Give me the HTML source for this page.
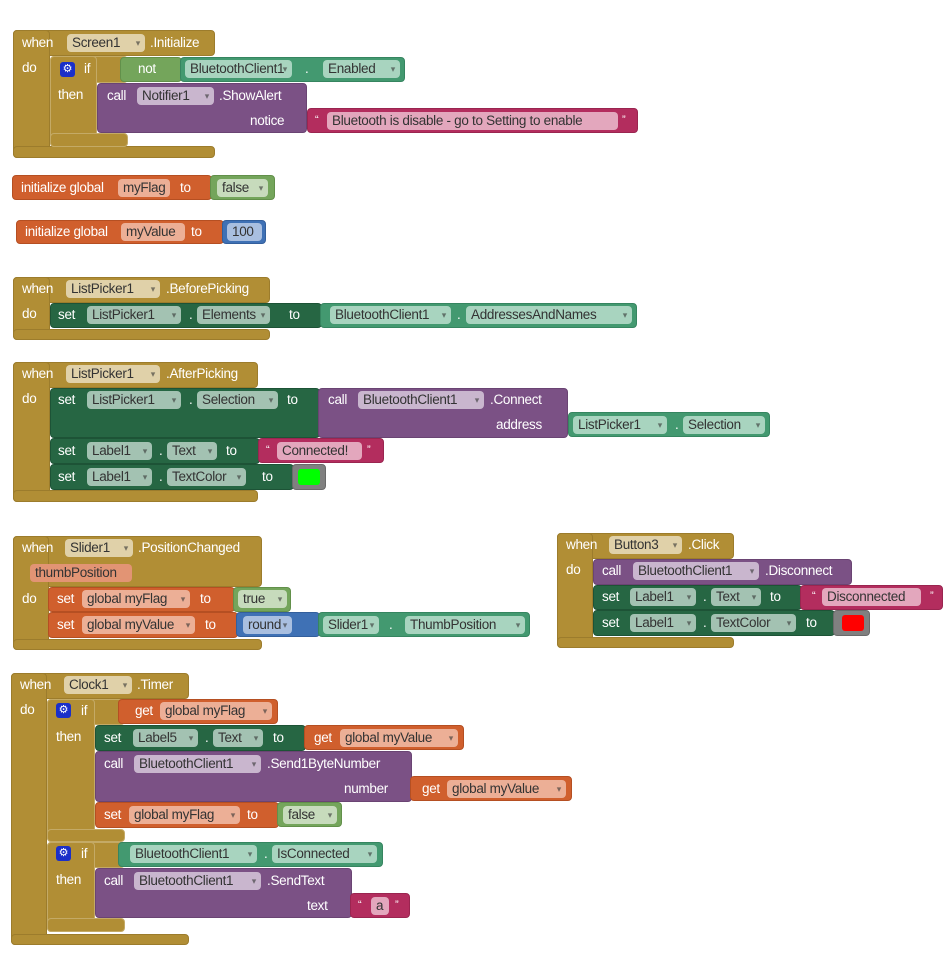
<!DOCTYPE html>
<html><head><meta charset="utf-8"><style>
body{margin:0;width:945px;height:957px;background:#fff;position:relative;overflow:hidden;font-family:"Liberation Sans",Arial,sans-serif}
.b{position:absolute;border-radius:4px;box-sizing:border-box}
.g{background:#B18E35;border:1px solid #9c7c2c}
.gi{background:#B18E35;border:1px solid #c4aa66}
.pu{background:#7B5185;border:1px solid #6a4473}
.dg{background:#266643;border:1px solid #1d5336}
.tl{background:#439970;border:1px solid #368560}
.or{background:#D05F2D;border:1px solid #b54f22}
.lm{background:#74A55B;border:1px solid #62904a}
.st{background:#B32D5E;border:1px solid #9a2550}
.bl{background:#3F71B5;border:1px solid #335f9c}
.gr{background:#808080;border:1px solid #6a6a6a}
.t{position:absolute;color:#fff;font-size:13.5px;letter-spacing:-0.3px;line-height:18px;white-space:nowrap}
.p{position:absolute;height:18px;border-radius:4px;color:#333;font-size:13.5px;letter-spacing:-0.3px;line-height:18px;padding-left:5px;box-sizing:border-box;white-space:nowrap;overflow:hidden}
.d::after{content:"▾";position:absolute;right:5px;top:0;font-size:9px;opacity:.6}
.pg{background:#E0D1A9}.ppu{background:#C9B6CE}.pdg{background:#A3C2B2}.ptl{background:#A8D4BF}.por{background:#ECAF96}.plm{background:#C7DBBC}.pst{background:#E3A7BD}.pbl{background:#A9BFE0}
.gear{position:absolute;width:15px;height:15px;background:#1a2fc9;border-radius:3px;color:#fff;font-size:11px;line-height:15px;text-align:center}
</style></head><body>

<!-- Screen1.Initialize -->
<div class="b g" style="left:13px;top:30px;width:202px;height:26px"></div>
<div class="b g" style="left:13px;top:30px;width:37px;height:128px"></div>
<div class="b g" style="left:13px;top:146px;width:202px;height:12px"></div>
<div class="b gi" style="left:50px;top:56px;width:78px;height:27px"></div>
<div class="b gi" style="left:50px;top:56px;width:47px;height:91px"></div>
<div class="b gi" style="left:50px;top:133px;width:78px;height:14px"></div>
<div class="b lm" style="left:120px;top:57px;width:62px;height:25px"></div>
<div class="b tl" style="left:180px;top:57px;width:225px;height:25px"></div>
<div class="b pu" style="left:97px;top:83px;width:210px;height:50px"></div>
<div class="b st" style="left:307px;top:108px;width:331px;height:25px"></div>
<div class="t" style="left:22px;top:34px">when</div>
<div class="p pg d" style="left:67px;top:34px;width:78px">Screen1</div>
<div class="t" style="left:150px;top:34px">.Initialize</div>
<div class="t" style="left:22px;top:59px">do</div>
<div class="gear" style="left:60px;top:62px">⚙</div>
<div class="t" style="left:84px;top:60px">if</div>
<div class="t" style="left:58px;top:86px">then</div>
<div class="t" style="left:138px;top:60px">not</div>
<div class="p ptl d" style="left:185px;top:60px;width:107px">BluetoothClient1</div>
<div class="t" style="left:305px;top:60px">.</div>
<div class="p ptl d" style="left:323px;top:60px;width:77px">Enabled</div>
<div class="t" style="left:107px;top:87px">call</div>
<div class="p ppu d" style="left:137px;top:87px;width:77px">Notifier1</div>
<div class="t" style="left:219px;top:87px">.ShowAlert</div>
<div class="t" style="left:250px;top:112px">notice</div>
<div class="t" style="left:315px;top:111px;font-size:11px">“</div>
<div class="p pst" style="left:327px;top:112px;width:291px">Bluetooth is disable - go to Setting to enable</div>
<div class="t" style="left:622px;top:111px;font-size:11px">”</div>

<!-- init globals -->
<div class="b or" style="left:12px;top:175px;width:200px;height:25px"></div>
<div class="b lm" style="left:210px;top:175px;width:65px;height:25px"></div>
<div class="t" style="left:21px;top:179px">initialize global</div>
<div class="p por" style="left:118px;top:179px;width:52px">myFlag</div>
<div class="t" style="left:180px;top:179px">to</div>
<div class="p plm d" style="left:217px;top:179px;width:51px">false</div>

<div class="b or" style="left:16px;top:220px;width:208px;height:24px"></div>
<div class="b bl" style="left:222px;top:220px;width:44px;height:24px"></div>
<div class="t" style="left:25px;top:223px">initialize global</div>
<div class="p por" style="left:121px;top:223px;width:64px">myValue</div>
<div class="t" style="left:191px;top:223px">to</div>
<div class="p pbl" style="left:227px;top:223px;width:35px">100</div>

<!-- BeforePicking -->
<div class="b g" style="left:13px;top:277px;width:257px;height:26px"></div>
<div class="b g" style="left:13px;top:277px;width:37px;height:63px"></div>
<div class="b g" style="left:13px;top:329px;width:257px;height:11px"></div>
<div class="b dg" style="left:50px;top:303px;width:272px;height:25px"></div>
<div class="b tl" style="left:320px;top:303px;width:317px;height:25px"></div>
<div class="t" style="left:22px;top:280px">when</div>
<div class="p pg d" style="left:66px;top:280px;width:94px">ListPicker1</div>
<div class="t" style="left:166px;top:280px">.BeforePicking</div>
<div class="t" style="left:22px;top:305px">do</div>
<div class="t" style="left:58px;top:306px">set</div>
<div class="p pdg d" style="left:87px;top:306px;width:94px">ListPicker1</div>
<div class="t" style="left:189px;top:306px">.</div>
<div class="p pdg d" style="left:197px;top:306px;width:73px">Elements</div>
<div class="t" style="left:289px;top:306px">to</div>
<div class="p ptl d" style="left:330px;top:306px;width:121px">BluetoothClient1</div>
<div class="t" style="left:457px;top:306px">.</div>
<div class="p ptl d" style="left:466px;top:306px;width:166px">AddressesAndNames</div>

<!-- AfterPicking -->
<div class="b g" style="left:13px;top:362px;width:245px;height:26px"></div>
<div class="b g" style="left:13px;top:362px;width:37px;height:140px"></div>
<div class="b g" style="left:13px;top:490px;width:245px;height:12px"></div>
<div class="b dg" style="left:50px;top:388px;width:270px;height:50px"></div>
<div class="b pu" style="left:318px;top:388px;width:250px;height:50px"></div>
<div class="b tl" style="left:568px;top:412px;width:202px;height:25px"></div>
<div class="b dg" style="left:50px;top:438px;width:210px;height:26px"></div>
<div class="b st" style="left:258px;top:438px;width:126px;height:25px"></div>
<div class="b dg" style="left:50px;top:464px;width:244px;height:26px"></div>
<div class="b gr" style="left:292px;top:464px;width:34px;height:26px"></div>
<div style="position:absolute;left:298px;top:469px;width:22px;height:16px;background:#00ff00;border-radius:3px"></div>
<div class="t" style="left:22px;top:365px">when</div>
<div class="p pg d" style="left:66px;top:365px;width:94px">ListPicker1</div>
<div class="t" style="left:166px;top:365px">.AfterPicking</div>
<div class="t" style="left:22px;top:390px">do</div>
<div class="t" style="left:58px;top:391px">set</div>
<div class="p pdg d" style="left:87px;top:391px;width:94px">ListPicker1</div>
<div class="t" style="left:189px;top:391px">.</div>
<div class="p pdg d" style="left:197px;top:391px;width:81px">Selection</div>
<div class="t" style="left:287px;top:391px">to</div>
<div class="t" style="left:328px;top:391px">call</div>
<div class="p ppu d" style="left:358px;top:391px;width:126px">BluetoothClient1</div>
<div class="t" style="left:490px;top:391px">.Connect</div>
<div class="t" style="left:496px;top:416px">address</div>
<div class="p ptl d" style="left:573px;top:416px;width:94px">ListPicker1</div>
<div class="t" style="left:675px;top:416px">.</div>
<div class="p ptl d" style="left:683px;top:416px;width:82px">Selection</div>
<div class="t" style="left:58px;top:442px">set</div>
<div class="p pdg d" style="left:87px;top:442px;width:65px">Label1</div>
<div class="t" style="left:159px;top:442px">.</div>
<div class="p pdg d" style="left:167px;top:442px;width:50px">Text</div>
<div class="t" style="left:226px;top:442px">to</div>
<div class="t" style="left:266px;top:441px;font-size:11px">“</div>
<div class="p pst" style="left:277px;top:442px;width:85px">Connected!</div>
<div class="t" style="left:367px;top:441px;font-size:11px">”</div>
<div class="t" style="left:58px;top:468px">set</div>
<div class="p pdg d" style="left:87px;top:468px;width:65px">Label1</div>
<div class="t" style="left:159px;top:468px">.</div>
<div class="p pdg d" style="left:167px;top:468px;width:79px">TextColor</div>
<div class="t" style="left:262px;top:468px">to</div>

<!-- Slider -->
<div class="b g" style="left:13px;top:536px;width:249px;height:51px"></div>
<div class="b g" style="left:13px;top:536px;width:36px;height:114px"></div>
<div class="b g" style="left:13px;top:639px;width:249px;height:11px"></div>
<div class="b or" style="left:48px;top:587px;width:187px;height:25px"></div>
<div class="b lm" style="left:233px;top:587px;width:58px;height:25px"></div>
<div class="b or" style="left:48px;top:612px;width:190px;height:26px"></div>
<div class="b bl" style="left:236px;top:612px;width:84px;height:25px"></div>
<div class="b tl" style="left:318px;top:612px;width:212px;height:25px"></div>
<div class="t" style="left:22px;top:539px">when</div>
<div class="p pg d" style="left:65px;top:539px;width:68px">Slider1</div>
<div class="t" style="left:138px;top:539px">.PositionChanged</div>
<div class="p por" style="left:30px;top:564px;width:102px;background:#E29474">thumbPosition</div>
<div class="t" style="left:22px;top:590px">do</div>
<div class="t" style="left:57px;top:590px">set</div>
<div class="p por d" style="left:82px;top:590px;width:108px">global myFlag</div>
<div class="t" style="left:200px;top:590px">to</div>
<div class="p plm d" style="left:238px;top:590px;width:49px">true</div>
<div class="t" style="left:57px;top:616px">set</div>
<div class="p por d" style="left:82px;top:616px;width:113px">global myValue</div>
<div class="t" style="left:205px;top:616px">to</div>
<div class="p pbl d" style="left:243px;top:616px;width:49px">round</div>
<div class="p ptl d" style="left:323px;top:616px;width:56px">Slider1</div>
<div class="t" style="left:389px;top:616px">.</div>
<div class="p ptl d" style="left:405px;top:616px;width:120px">ThumbPosition</div>

<!-- Button3 -->
<div class="b g" style="left:557px;top:533px;width:177px;height:26px"></div>
<div class="b g" style="left:557px;top:533px;width:36px;height:115px"></div>
<div class="b g" style="left:557px;top:637px;width:177px;height:11px"></div>
<div class="b pu" style="left:593px;top:559px;width:259px;height:26px"></div>
<div class="b dg" style="left:593px;top:585px;width:209px;height:25px"></div>
<div class="b st" style="left:800px;top:585px;width:143px;height:25px"></div>
<div class="b dg" style="left:593px;top:610px;width:242px;height:26px"></div>
<div class="b gr" style="left:833px;top:610px;width:37px;height:26px"></div>
<div style="position:absolute;left:842px;top:615px;width:22px;height:16px;background:#ff0000;border-radius:3px"></div>
<div class="t" style="left:566px;top:536px">when</div>
<div class="p pg d" style="left:609px;top:536px;width:73px">Button3</div>
<div class="t" style="left:688px;top:536px">.Click</div>
<div class="t" style="left:566px;top:561px">do</div>
<div class="t" style="left:602px;top:562px">call</div>
<div class="p ppu d" style="left:633px;top:562px;width:126px">BluetoothClient1</div>
<div class="t" style="left:765px;top:562px">.Disconnect</div>
<div class="t" style="left:602px;top:588px">set</div>
<div class="p pdg d" style="left:630px;top:588px;width:66px">Label1</div>
<div class="t" style="left:703px;top:588px">.</div>
<div class="p pdg d" style="left:711px;top:588px;width:50px">Text</div>
<div class="t" style="left:770px;top:588px">to</div>
<div class="t" style="left:812px;top:587px;font-size:11px">“</div>
<div class="p pst" style="left:822px;top:588px;width:99px">Disconnected</div>
<div class="t" style="left:930px;top:587px;font-size:11px">”</div>
<div class="t" style="left:602px;top:614px">set</div>
<div class="p pdg d" style="left:630px;top:614px;width:66px">Label1</div>
<div class="t" style="left:703px;top:614px">.</div>
<div class="p pdg d" style="left:711px;top:614px;width:85px">TextColor</div>
<div class="t" style="left:806px;top:614px">to</div>

<!-- Clock -->
<div class="b g" style="left:11px;top:673px;width:178px;height:26px"></div>
<div class="b g" style="left:11px;top:673px;width:36px;height:272px"></div>
<div class="b g" style="left:11px;top:934px;width:178px;height:11px"></div>
<div class="b gi" style="left:47px;top:699px;width:78px;height:26px"></div>
<div class="b gi" style="left:47px;top:699px;width:48px;height:143px"></div>
<div class="b gi" style="left:47px;top:829px;width:78px;height:13px"></div>
<div class="b gi" style="left:47px;top:842px;width:78px;height:26px"></div>
<div class="b gi" style="left:47px;top:842px;width:48px;height:90px"></div>
<div class="b gi" style="left:47px;top:918px;width:78px;height:14px"></div>
<div class="b or" style="left:118px;top:699px;width:160px;height:25px"></div>
<div class="b dg" style="left:95px;top:725px;width:211px;height:26px"></div>
<div class="b or" style="left:304px;top:725px;width:160px;height:25px"></div>
<div class="b pu" style="left:95px;top:751px;width:317px;height:51px"></div>
<div class="b or" style="left:410px;top:776px;width:162px;height:25px"></div>
<div class="b or" style="left:95px;top:802px;width:184px;height:26px"></div>
<div class="b lm" style="left:277px;top:802px;width:65px;height:25px"></div>
<div class="b tl" style="left:118px;top:842px;width:265px;height:25px"></div>
<div class="b pu" style="left:95px;top:868px;width:257px;height:50px"></div>
<div class="b st" style="left:350px;top:893px;width:60px;height:25px"></div>
<div class="t" style="left:20px;top:676px">when</div>
<div class="p pg d" style="left:64px;top:676px;width:68px">Clock1</div>
<div class="t" style="left:137px;top:676px">.Timer</div>
<div class="t" style="left:20px;top:701px">do</div>
<div class="gear" style="left:56px;top:703px">⚙</div>
<div class="t" style="left:81px;top:702px">if</div>
<div class="t" style="left:56px;top:728px">then</div>
<div class="t" style="left:135px;top:702px">get</div>
<div class="p por d" style="left:160px;top:702px;width:112px">global myFlag</div>
<div class="t" style="left:104px;top:729px">set</div>
<div class="p pdg d" style="left:133px;top:729px;width:65px">Label5</div>
<div class="t" style="left:205px;top:729px">.</div>
<div class="p pdg d" style="left:213px;top:729px;width:50px">Text</div>
<div class="t" style="left:273px;top:729px">to</div>
<div class="t" style="left:314px;top:729px">get</div>
<div class="p por d" style="left:340px;top:729px;width:118px">global myValue</div>
<div class="t" style="left:104px;top:755px">call</div>
<div class="p ppu d" style="left:134px;top:755px;width:127px">BluetoothClient1</div>
<div class="t" style="left:267px;top:755px">.Send1ByteNumber</div>
<div class="t" style="left:344px;top:780px">number</div>
<div class="t" style="left:422px;top:780px">get</div>
<div class="p por d" style="left:447px;top:780px;width:119px">global myValue</div>
<div class="t" style="left:104px;top:806px">set</div>
<div class="p por d" style="left:129px;top:806px;width:111px">global myFlag</div>
<div class="t" style="left:247px;top:806px">to</div>
<div class="p plm d" style="left:283px;top:806px;width:54px">false</div>
<div class="gear" style="left:56px;top:846px">⚙</div>
<div class="t" style="left:81px;top:845px">if</div>
<div class="t" style="left:56px;top:871px">then</div>
<div class="p ptl d" style="left:130px;top:845px;width:127px">BluetoothClient1</div>
<div class="t" style="left:264px;top:845px">.</div>
<div class="p ptl d" style="left:272px;top:845px;width:105px">IsConnected</div>
<div class="t" style="left:104px;top:872px">call</div>
<div class="p ppu d" style="left:134px;top:872px;width:127px">BluetoothClient1</div>
<div class="t" style="left:267px;top:872px">.SendText</div>
<div class="t" style="left:307px;top:897px">text</div>
<div class="t" style="left:358px;top:896px;font-size:11px">“</div>
<div class="p pst" style="left:371px;top:897px;width:18px">a</div>
<div class="t" style="left:395px;top:896px;font-size:11px">”</div>

</body></html>
